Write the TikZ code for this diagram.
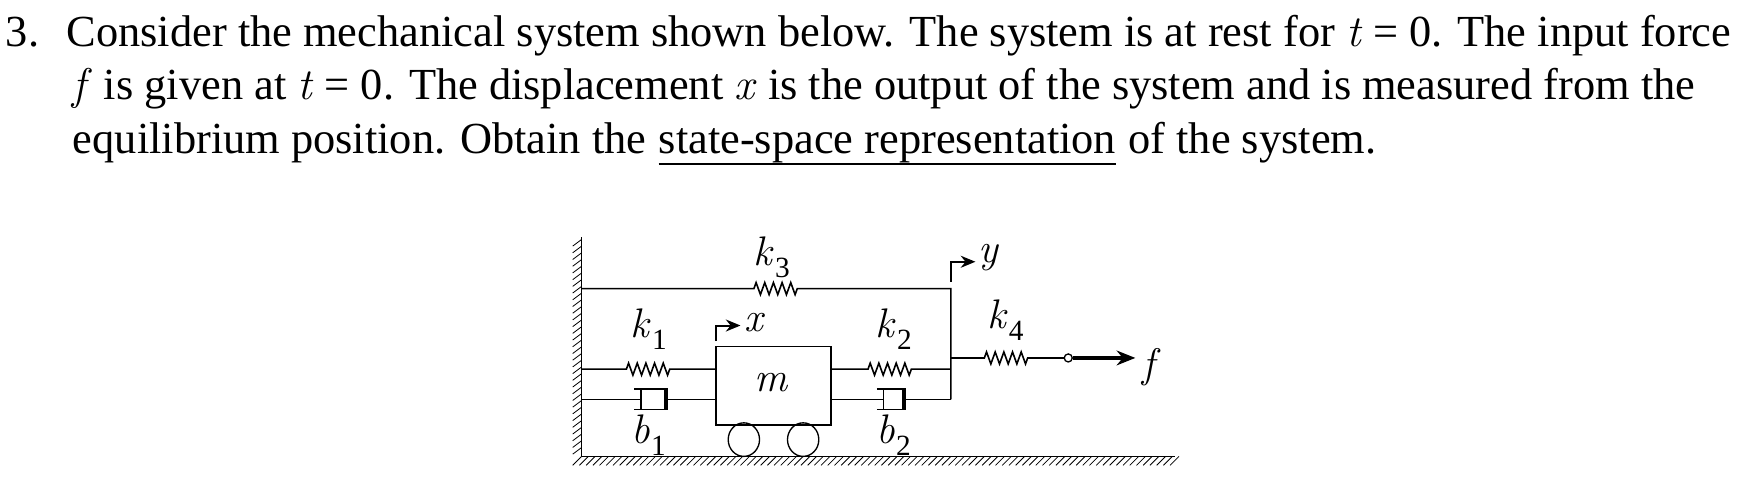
\documentclass[tikz,border=0pt]{standalone}
\usepackage{fontspec}
\setmainfont{Liberation Serif}
\newfontfamily\vfont{Latin Modern Roman}
\usetikzlibrary{decorations.pathmorphing,arrows.meta}
\newcommand{\vv}[1]{{\vfont\itshape #1\/}}
\newcommand{\ks}[2]{\vv{#1}\kern0.02em\raisebox{-0.3em}{\fontsize{22}{24}\selectfont #2}}
\newcommand{\uln}[1]{\tikz[baseline=(u.base)]{\node[inner sep=0pt] (u) {#1};\draw[line width=1.6pt] ([yshift=-8pt]u.base west) -- ([yshift=-8pt]u.base east);}}
\begin{document}
\begin{tikzpicture}[x=0.839pt,y=-0.839pt,
  txt/.style={anchor=base west,inner sep=0pt,font=\fontsize{33.3}{38}\selectfont},
  lbl/.style={inner sep=0pt,font=\fontsize{31}{32}\selectfont},
  ln/.style={line width=1.2pt},
  spr/.style={decorate,decoration={zigzag,segment length=6.5,amplitude=4.5pt}},
  arr/.style={line width=1.5pt,-{Stealth[length=11pt,width=9pt]}}]
\useasboundingbox (0,0) rectangle (1560,429);
\node[txt] (l1) at (5,42) {3.\hspace{0.62em}Consider the mechanical system shown below. The system is at rest for \vv{t} = 0. The input force};
\node[txt] (l2) at (65,89) {\vv{f} is given at \vv{t} = 0. The displacement \vv{x} is the output of the system and is measured from the};
\node[txt] (l3) at (65,137) {equilibrium position. Obtain the \uln{state-space representation} of the system.};
% wall and ground
\draw[ln] (520,212) -- (520,408) -- (1050,408);
\foreach \y in {214,220,...,404} \draw[line width=0.6pt] (520,\y) -- (512,\y+6);
\foreach \x in {512,518,...,1046} \draw[line width=0.6pt] (\x+8,408) -- (\x,416);
% mass
\node[draw,line width=1.2pt,minimum width=86pt,minimum height=59pt,inner sep=0pt] (m) at (691.5,345) {};
\node[lbl] (ml) at (690,342) {\vv{m}};
\draw[line width=1pt] (665,393) ellipse (14 and 15);
\draw[line width=1pt] (718,393) ellipse (14 and 15);
% k3
\coordinate (w3) at (520,258); \coordinate (r3) at (850,258);
\draw[ln] (w3) -- (674,258) decorate[spr]{-- (713,258)} -- (r3) -- (850,357);
\node[lbl] (k3) at (690,230) {\ks{k}{3}};
% k1
\draw[ln] (520,330) -- (560,330) decorate[spr]{-- (602,330)} -- (640,330);
\node[lbl] (k1) at (580,294) {\ks{k}{1}};
% b1
\draw[ln] (520,357) -- (573,357);
\draw[ln] (573,348) -- (573,366);
\draw[ln] (567,348) -- (597,348) (567,366) -- (597,366);
\draw[line width=3pt] (595,348) -- (595,366);
\draw[ln] (597,357) -- (640,357);
\node[lbl] (b1) at (580,389) {\ks{b}{1}};
% k2
\draw[ln] (743,330) -- (776,330) decorate[spr]{-- (818,330)} -- (850,330);
\node[lbl] (k2) at (799,294) {\ks{k}{2}};
% b2
\draw[ln] (743,357) -- (790,357);
\draw[ln] (790,348) -- (790,366);
\draw[ln] (784,348) -- (810,348) (784,366) -- (810,366);
\draw[line width=3pt] (808,348) -- (808,366);
\draw[ln] (810,357) -- (850,357);
\node[lbl] (b2) at (799,389) {\ks{b}{2}};
% k4
\draw[ln] (850,320) -- (880,320) decorate[spr]{-- (922,320)} -- (952,320);
\node[draw,circle,line width=1pt,minimum size=6pt,inner sep=0pt] (c) at (955,320) {};
\draw[line width=2.4pt,-{Stealth[length=14pt,width=11pt]}] (c.east) -- (1015,320);
\node[lbl] (k4) at (899,286) {\ks{k}{4}};
\node[lbl] (f) at (1030,328) {\vv{f}};
% x and y arrows
\draw[arr] (640,305) -- (640,291) -- (662,291);
\node[lbl] (xl) at (675,288) {\vv{x}};
\draw[arr] (850,252) -- (850,234) -- (872,234);
\node[lbl] (yl) at (884,230) {\vv{y}};
\end{tikzpicture}
\end{document}
